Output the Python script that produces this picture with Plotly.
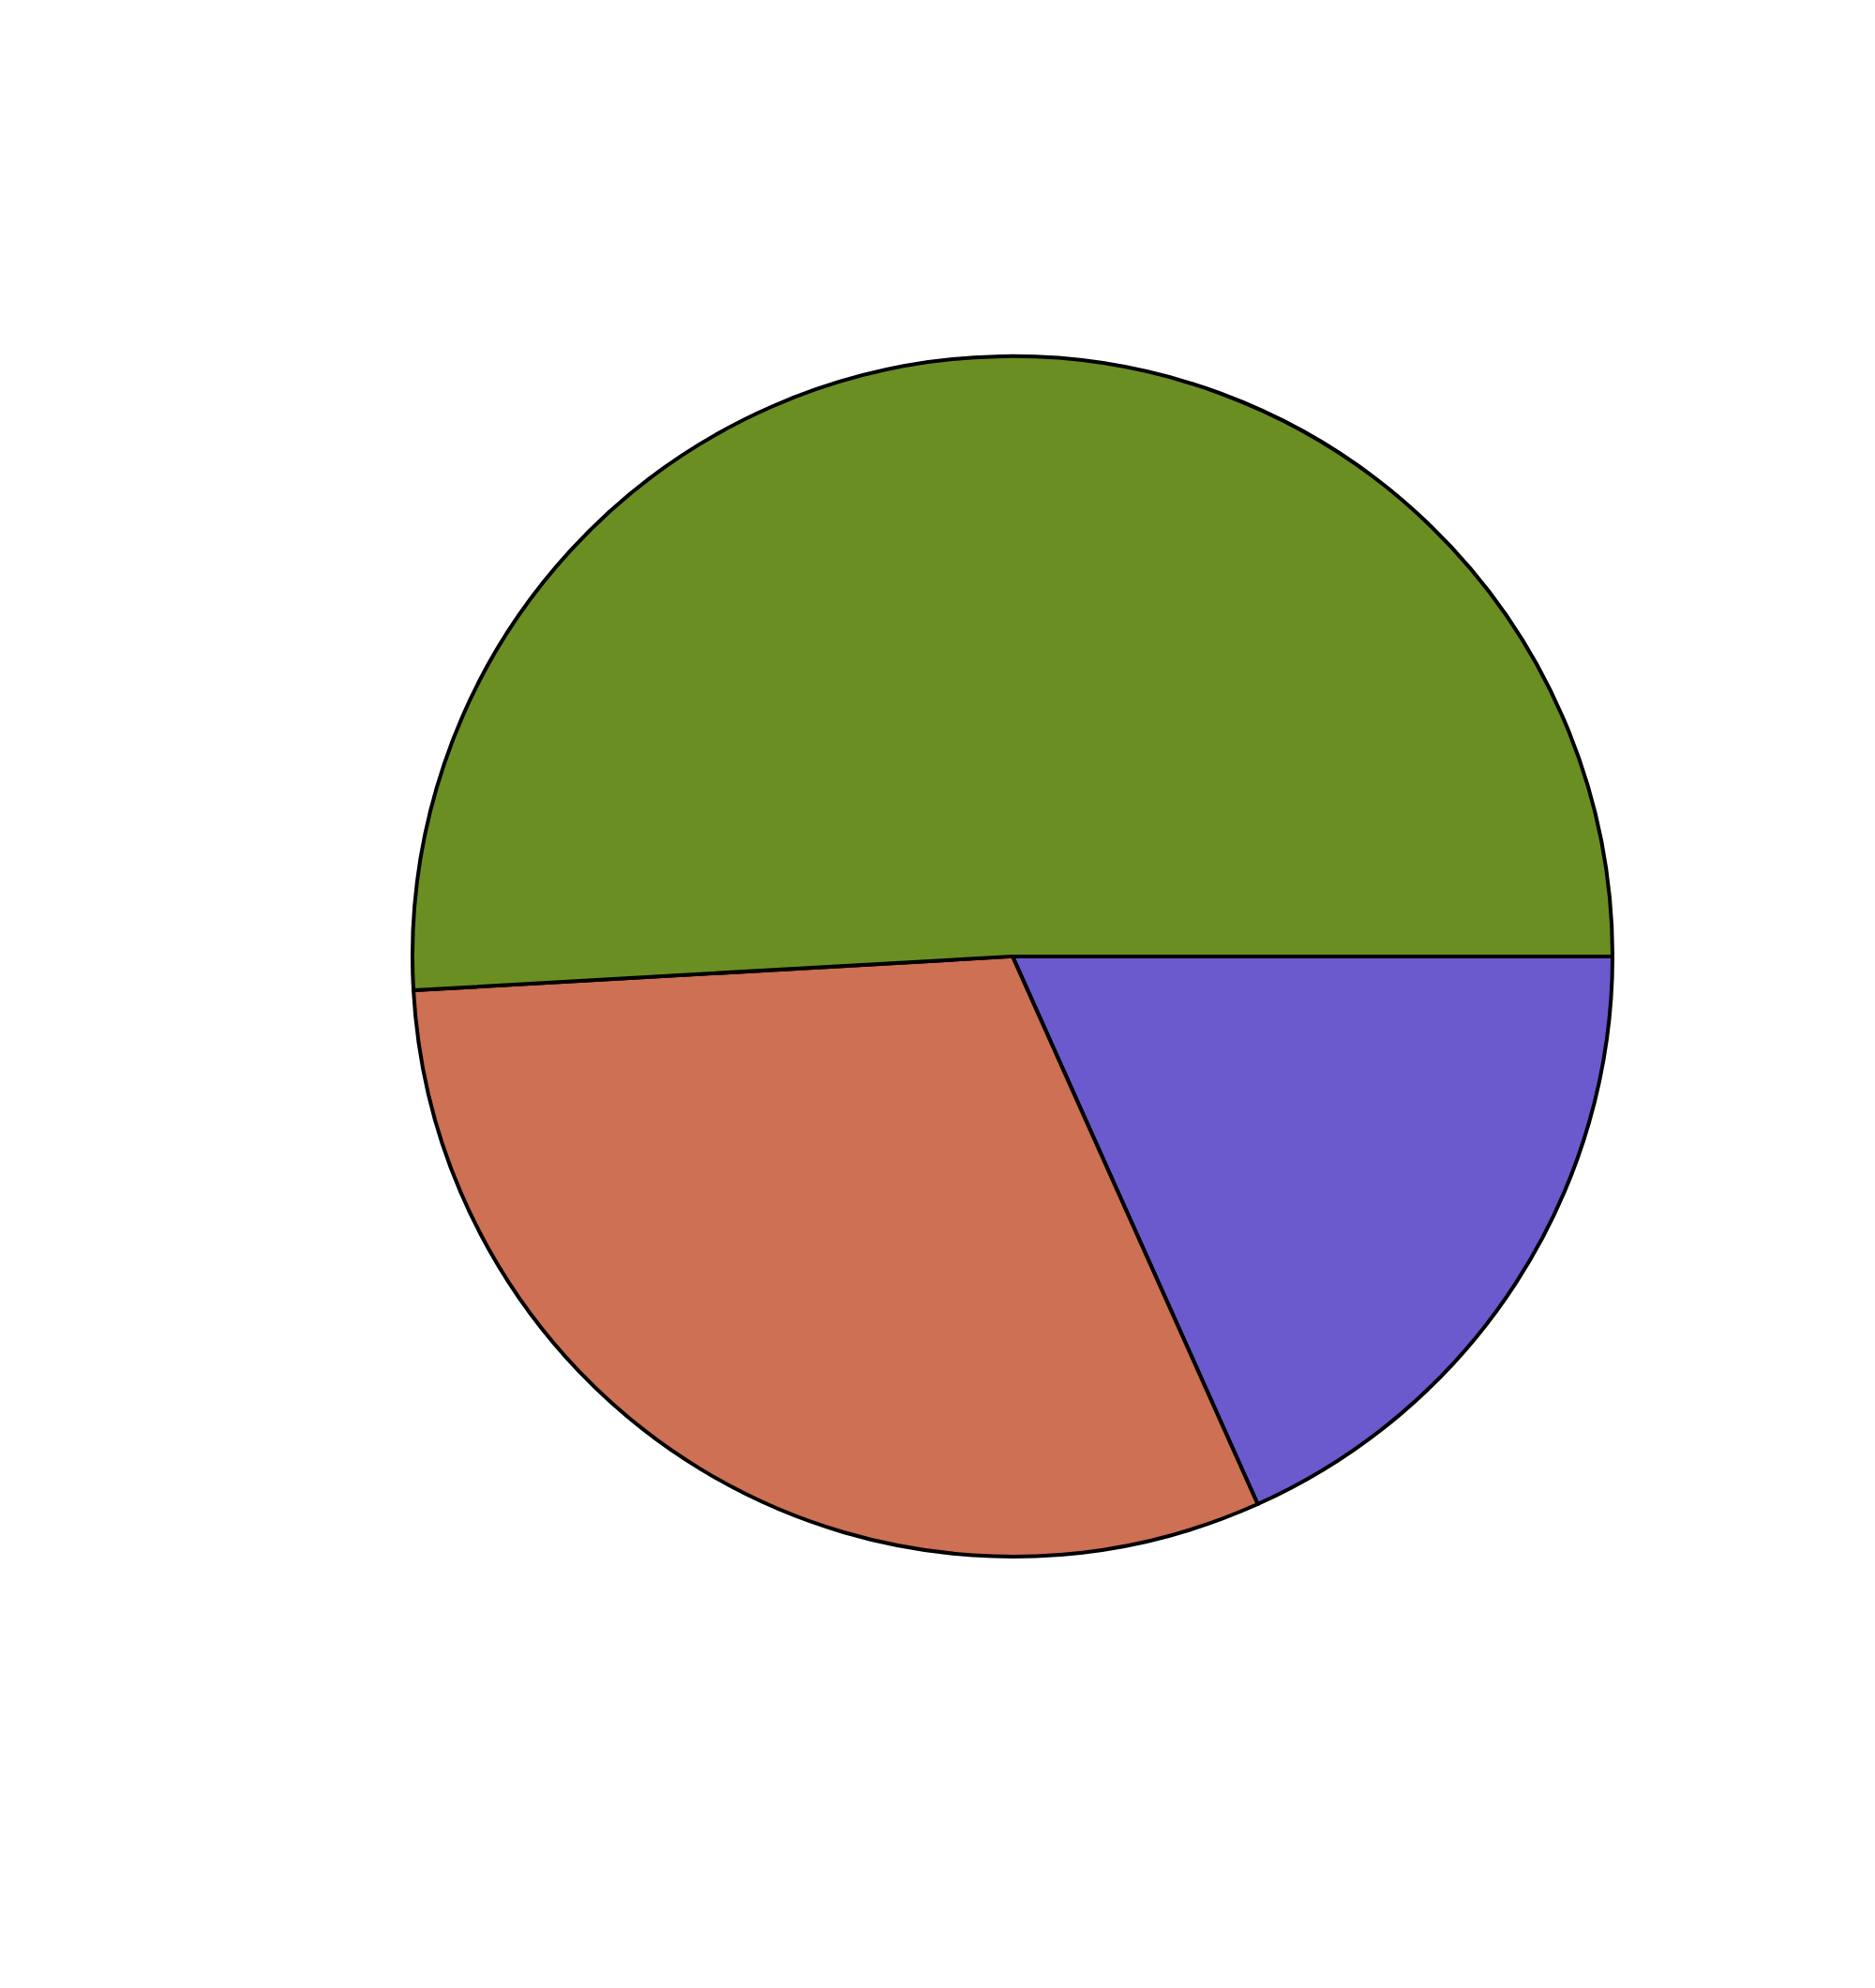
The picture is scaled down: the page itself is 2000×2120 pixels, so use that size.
import plotly.graph_objects as go

# Slices listed clockwise starting at 3 o'clock
labels = ["C", "B", "A"]
values = [18.3, 30.8, 50.9]
colors = ["#6A5ACD", "#CD7054", "#6B8E23"]

fig = go.Figure(go.Pie(
    labels=labels,
    values=values,
    sort=False,
    direction="clockwise",
    rotation=90,
    marker=dict(colors=colors, line=dict(color="black", width=4)),
    textinfo="none",
    hoverinfo="label+percent",
    showlegend=False,
    domain=dict(x=[0.216, 0.856], y=[0.2208, 0.8246]),
))
fig.update_layout(
    width=2000, height=2120,
    margin=dict(l=0, r=0, t=0, b=0),
    paper_bgcolor="white", plot_bgcolor="white",
)
fig.write_html("out.html")
